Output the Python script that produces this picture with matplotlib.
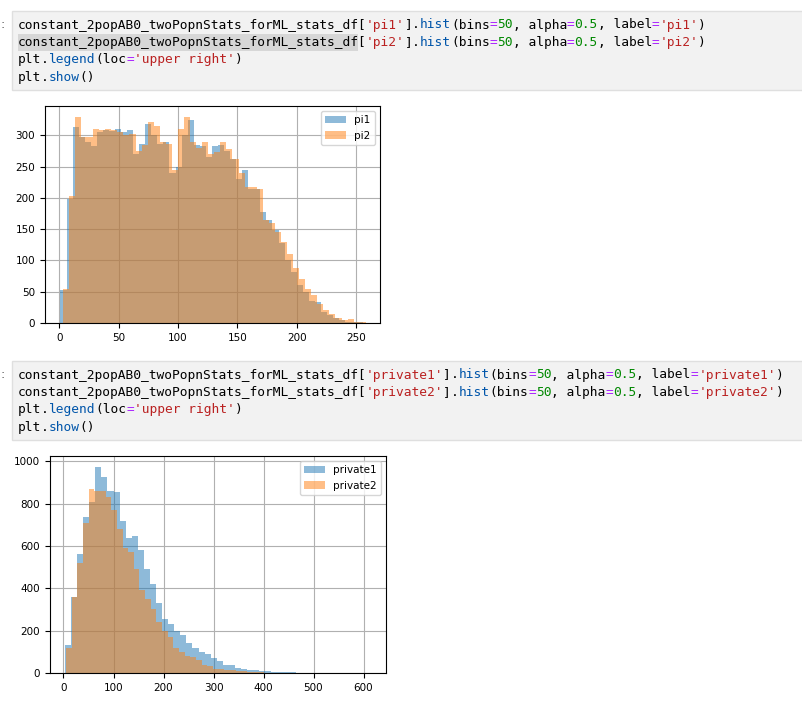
import numpy as np
import matplotlib.pyplot as plt
from matplotlib.patches import Rectangle

# bar heights (50 bins each)
pi1 = [52, 198, 313, 298, 290, 283, 305, 308, 307, 310, 305, 308, 270, 287, 318, 300, 287, 290, 240, 250,
       300, 325, 285, 283, 265, 283, 285, 275, 262, 230, 245, 215, 215, 178, 165, 148, 128, 100, 82, 60,
       50, 35, 33, 18, 12, 8, 5, 2, 1, 1]
pi2 = [55, 203, 330, 298, 297, 310, 308, 310, 308, 305, 300, 303, 275, 285, 322, 315, 290, 287, 245, 310,
       330, 290, 280, 290, 270, 273, 290, 278, 262, 240, 217, 218, 215, 165, 160, 145, 130, 110, 88, 70,
       55, 45, 30, 20, 15, 8, 5, 7, 2, 1]
pi1_range = (1, 256)
pi2_range = (3, 258)

private1 = [132, 360, 560, 735, 810, 975, 925, 860, 855, 720, 640, 645, 580, 490, 420, 330, 255, 230, 200, 180,
            140, 120, 100, 90, 70, 55, 40, 40, 25, 20, 15, 12, 10, 10, 6, 5, 3, 3, 2, 2,
            1, 2, 1, 1, 1, 0, 1, 0, 0, 1]
private2 = [120, 360, 520, 710, 870, 860, 860, 830, 770, 680, 590, 570, 490, 390, 350, 300, 240, 200, 170, 120,
            100, 80, 75, 60, 40, 35, 20, 20, 15, 12, 10, 8, 5, 5, 3, 2, 2, 1, 2, 1,
            1, 1, 1, 1, 1, 0, 1, 0, 1, 1]
private1_range = (3, 610)
private2_range = (5, 570)

W, H = 803, 702
fig = plt.figure(figsize=(W / 100, H / 100), dpi=100)

BLACK, RED, BLUE, PURPLE, GREEN = '#000000', '#BA2121', '#0055AA', '#AA22FF', '#008800'
DF = 'constant_2popAB0_twoPopnStats_forML_stats_df'


def code_cell(top, lines, highlight=None):
    fig.patches.append(Rectangle((12 / W, 1 - (top + 79) / H), (W - 12) / W, 79 / H,
                                 transform=fig.transFigure, facecolor='#f2f2f2',
                                 edgecolor='#dfdfdf', lw=1))
    fig.text(1 / W, 1 - (top + 14) / H, ':', fontsize=9, color='#555555', va='center')
    if highlight is not None:
        row, n = highlight
        y0 = top + 6 + row * 17.4
        fig.patches.append(Rectangle((18 / W, 1 - (y0 + 17) / H), n * 7.73 / W, 17 / H,
                                     transform=fig.transFigure, facecolor='#d7d7d7', lw=0))
    for i, toks in enumerate(lines):
        col = 0
        y = 1 - (top + 14 + i * 17.4) / H
        for s, c in toks:
            fig.text((18 + col * 7.73) / W, y, s, fontsize=9.25, family='DejaVu Sans Mono',
                     color=c, va='center')
            col += len(s)


def hist_line(col, lab):
    return [(DF + '[', BLACK), ("'%s'" % col, RED), (']', BLACK), ('.', BLACK), ('hist', BLUE),
            ('(bins', BLACK), ('=', PURPLE), ('50', GREEN), (', alpha', BLACK), ('=', PURPLE),
            ('0.5', GREEN), (', label', BLACK), ('=', PURPLE), ("'%s'" % lab, RED), (')', BLACK)]


tail = [[('plt', BLACK), ('.', BLACK), ('legend', BLUE), ('(loc', BLACK), ('=', PURPLE),
         ("'upper right'", RED), (')', BLACK)],
        [('plt', BLACK), ('.', BLACK), ('show', BLUE), ('()', BLACK)]]

code_cell(11, [hist_line('pi1', 'pi1'), hist_line('pi2', 'pi2')] + tail, highlight=(1, len(DF)))
code_cell(361, [hist_line('private1', 'private1'), hist_line('private2', 'private2')] + tail)


def hist_panel(rect, series, ranges, labels, yticks, xticks, ylim, xlim):
    ax = fig.add_axes([rect[0] / W, 1 - rect[3] / H, (rect[2] - rect[0]) / W, (rect[3] - rect[1]) / H])
    for vals, rng, lab in zip(series, ranges, labels):
        edges = np.linspace(rng[0], rng[1], len(vals) + 1)
        centers = (edges[:-1] + edges[1:]) / 2
        ax.hist(centers, bins=edges, weights=vals, alpha=0.5, label=lab)
    ax.grid(True, color='#b0b0b0', lw=0.8)
    ax.set_axisbelow(True)
    ax.set_yticks(yticks)
    ax.set_xticks(xticks)
    ax.set_ylim(*ylim)
    ax.set_xlim(*xlim)
    ax.tick_params(labelsize=7.5)
    ax.legend(loc='upper right', fontsize=7.5)
    return ax


hist_panel((45, 106, 380, 323), [pi1, pi2], [pi1_range, pi2_range], ['pi1', 'pi2'],
           range(0, 301, 50), range(0, 251, 50), (0, 347), (-12, 270))
hist_panel((50, 456, 386, 673), [private1, private2], [private1_range, private2_range],
           ['private1', 'private2'], range(0, 1001, 200), range(0, 601, 100), (0, 1025), (-27, 645))

fig.savefig('out.png', dpi=100)
